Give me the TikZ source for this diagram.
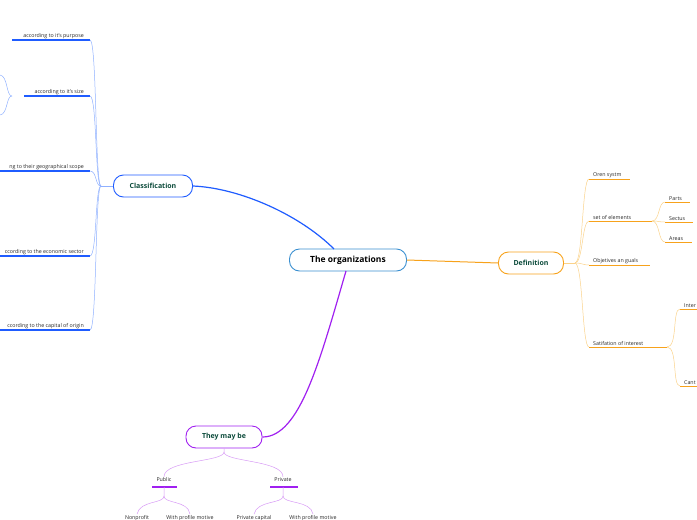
\documentclass[tikz,border=0pt]{standalone}
\usepackage{fontspec}
\setmainfont{Open Sans}
\definecolor{cbl}{HTML}{1F5CFF}
\definecolor{cblt}{HTML}{8FB0FF}
\definecolor{cor}{HTML}{F7A21B}
\definecolor{cort}{HTML}{FAD28A}
\definecolor{cpu}{HTML}{A020F0}
\definecolor{cput}{HTML}{D79AF5}
\definecolor{ccen}{HTML}{3A8FD0}
\definecolor{ctx}{HTML}{0B4A3A}
\begin{document}
\begin{tikzpicture}[x=1pt,y=-1pt,
  main/.style={draw=#1,line width=0.9pt,rounded corners=10pt,minimum height=22pt,inner sep=0pt},
  lab/.style={font=\fontsize{5.3}{6}\selectfont,text=black!85,inner sep=1pt},
  bl/.style={fill=cbl,draw=none},
  blt/.style={color=cblt,line width=0.5pt},
  ou/.style={fill=cor,draw=none},
  ot/.style={color=cort,line width=0.5pt},
  pu/.style={fill=cpu,draw=none},
  pt/.style={color=cput,line width=0.5pt}]
\useasboundingbox (0,0) rectangle (697,520);
% main nodes
\node[main=ccen,minimum width=117pt,font=\fontsize{8.5}{10}\selectfont\bfseries] (c) at (348,260) {The organizations};
\node[main=cbl,minimum width=79pt,font=\fontsize{7}{8}\selectfont\bfseries,text=ctx] (cl) at (153,186) {Classification};
\node[main=cor,minimum width=65pt,font=\fontsize{7}{8}\selectfont\bfseries,text=ctx] (df) at (531,263) {Definition};
\node[main=cpu,minimum width=76pt,font=\fontsize{7}{8}\selectfont\bfseries,text=ctx] (tm) at (224,437) {They may be};
\coordinate (c1) at (334,249);
\coordinate (c2) at (346,271);
\draw[color=cbl,line width=1.2pt] (c1) .. controls (300,215) and (240,188) .. (cl.east);
\draw[color=cor,line width=1pt] (c.east) -- (df.west);
\draw[color=cpu,line width=1.2pt] (c2) .. controls (320,360) and (300,437) .. (tm.east);
% classification
\coordinate (cr) at (101,186);
\draw[blt] (cl.west) -- (cr);
\foreach \y/\txt/\xs in {40/according to it's purpose/12,96/according to it's size/24,171/ng to their geographical scope/0,256/ccording to the economic sector/0,330/ccording to the capital of origin/0}{
  \node[lab,anchor=south east] at (85,\y) {\txt};
  \fill[bl] (\xs,\y-0.6) rectangle (90,\y+0.6);
  \draw[blt] (cr) .. controls (95,186) and (97,\y) .. (90,\y);
}
\coordinate (sz) at (12,96);
\draw[blt] (sz) .. controls (6,96) and (8,76) .. (0,75);
\draw[blt] (sz) .. controls (6,96) and (8,114) .. (0,115);
% definition
\coordinate (dr) at (575,263);
\draw[ot] (df.east) -- (dr);
\foreach \y/\txt/\xe in {179/Oren systm/630,221/set of elements/652,265/Objetives an guals/650,347/Satifation of interest/667}{
  \node[lab,anchor=south west] at (592,\y) {\txt};
  \fill[ou] (589,\y-0.5) rectangle (\xe,\y+0.5);
  \draw[ot] (dr) .. controls (583,263) and (582,\y) .. (589,\y);
}
\foreach \y/\txt/\xe in {202/Parts/690,222/Sectus/693,242/Areas/692}{
  \node[lab,anchor=south west] at (668,\y) {\txt};
  \fill[ou] (665,\y-0.5) rectangle (\xe,\y+0.5);
  \draw[ot] (652,221) .. controls (660,221) and (658,\y) .. (665,\y);
}
\foreach \y/\txt in {309/Inter,386/Cant}{
  \node[lab,anchor=south west] at (683,\y) {\txt};
  \fill[ou] (680,\y-0.5) rectangle (697,\y+0.5);
  \draw[ot] (667,347) .. controls (678,347) and (672,\y) .. (680,\y);
}
% they may be
\node[lab] (pb) at (164,480) {Public};
\node[lab] (pv) at (283,480) {Private};
\fill[pu] (152,486.4) rectangle (177,487.6);
\fill[pu] (270,486.4) rectangle (298,487.6);
\draw[pt] (tm.south) -- (224,452) .. controls (224,462) and (164,460) .. (pb.north);
\draw[pt] (224,452) .. controls (224,462) and (283,460) .. (pv.north);
\node[lab] (n1) at (137,518) {Nonprofit};
\node[lab] (n2) at (190,518) {With profile motive};
\node[lab] (n3) at (254,518) {Private capital};
\node[lab] (n4) at (313,518) {With profile motive};
\draw[pt] (164,487) -- (164,496) .. controls (164,504) and (140,500) .. (n1.north);
\draw[pt] (164,496) .. controls (164,504) and (188,500) .. (n2.north);
\draw[pt] (283,487) -- (283,496) .. controls (283,504) and (257,500) .. (n3.north);
\draw[pt] (283,496) .. controls (283,504) and (311,500) .. (n4.north);
\end{tikzpicture}
\end{document}
